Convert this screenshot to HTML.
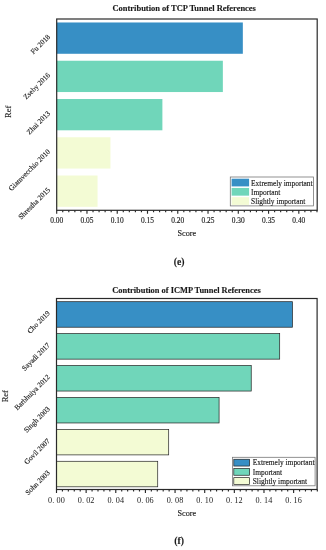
<!DOCTYPE html>
<html lang="en">
<head>
<meta charset="utf-8">
<title>Contribution of Tunnel References</title>
<style>
html,body{margin:0;padding:0;background:#fff;}
body{width:326px;height:550px;overflow:hidden;}
svg{display:block;font-family:"Liberation Serif", serif;}
text{fill:#1a1a1a;stroke:#1a1a1a;stroke-width:0.13px;}
.thin{stroke:none;fill:#222;}
</style>
</head>
<body>
<svg width="326" height="550" viewBox="0 0 326 550">
<rect width="326" height="550" fill="#fff"/>
<g>
<text x="112.5" y="10.6" font-size="8.46" font-weight="bold" fill="#000">Contribution of TCP Tunnel References</text>
<rect x="56.70" y="22.48" width="186.13" height="31.30" fill="#378fc5"/>
<text transform="translate(50.60 37.33) rotate(-45)" text-anchor="end" font-size="7.3">Fu 2018</text>
<rect x="56.70" y="60.74" width="166.15" height="31.30" fill="#70d6ba"/>
<text transform="translate(50.60 75.59) rotate(-45)" text-anchor="end" font-size="7.3">Zseby 2016</text>
<rect x="56.70" y="99.00" width="105.69" height="31.30" fill="#70d6ba"/>
<text transform="translate(50.60 113.85) rotate(-45)" text-anchor="end" font-size="7.3">Zhai 2013</text>
<rect x="56.70" y="137.26" width="53.75" height="31.30" fill="#f3fbd4"/>
<text transform="translate(50.60 152.11) rotate(-45)" text-anchor="end" font-size="7.3">Giamvecchio 2010</text>
<rect x="56.70" y="175.52" width="40.86" height="31.30" fill="#f3fbd4"/>
<text transform="translate(50.60 190.37) rotate(-45)" text-anchor="end" font-size="7.3">Shrestha 2015</text>
<rect x="56.70" y="19.00" width="260.50" height="191.30" fill="none" stroke="#2a2a2a" stroke-width="1.2"/>
<path d="M56.70 210.30v3.5M62.75 210.30v2.0M68.81 210.30v2.0M74.86 210.30v2.0M80.91 210.30v2.0M86.97 210.30v3.5M93.02 210.30v2.0M99.07 210.30v2.0M105.12 210.30v2.0M111.18 210.30v2.0M117.23 210.30v3.5M123.28 210.30v2.0M129.34 210.30v2.0M135.39 210.30v2.0M141.44 210.30v2.0M147.50 210.30v3.5M153.55 210.30v2.0M159.60 210.30v2.0M165.65 210.30v2.0M171.71 210.30v2.0M177.76 210.30v3.5M183.81 210.30v2.0M189.87 210.30v2.0M195.92 210.30v2.0M201.97 210.30v2.0M208.02 210.30v3.5M214.08 210.30v2.0M220.13 210.30v2.0M226.18 210.30v2.0M232.24 210.30v2.0M238.29 210.30v3.5M244.34 210.30v2.0M250.40 210.30v2.0M256.45 210.30v2.0M262.50 210.30v2.0M268.56 210.30v3.5M274.61 210.30v2.0M280.66 210.30v2.0M286.71 210.30v2.0M292.77 210.30v2.0M298.82 210.30v3.5M304.87 210.30v2.0M310.93 210.30v2.0M316.98 210.30v2.0" stroke="#2a2a2a" stroke-width="1.15" fill="none"/>
<text x="56.70" y="222.5" text-anchor="middle" font-size="7.38">0.00</text>
<text x="86.97" y="222.5" text-anchor="middle" font-size="7.38">0.05</text>
<text x="117.23" y="222.5" text-anchor="middle" font-size="7.38">0.10</text>
<text x="147.50" y="222.5" text-anchor="middle" font-size="7.38">0.15</text>
<text x="177.76" y="222.5" text-anchor="middle" font-size="7.38">0.20</text>
<text x="208.02" y="222.5" text-anchor="middle" font-size="7.38">0.25</text>
<text x="238.29" y="222.5" text-anchor="middle" font-size="7.38">0.30</text>
<text x="268.56" y="222.5" text-anchor="middle" font-size="7.38">0.35</text>
<text x="298.82" y="222.5" text-anchor="middle" font-size="7.38">0.40</text>
<text x="186.8" y="236.3" text-anchor="middle" font-size="8.2">Score</text>
<text transform="translate(11.4 111.9) rotate(-90)" text-anchor="middle" font-size="8.5">Ref</text>
<rect x="230.3" y="177.0" width="83.1" height="28.9" fill="#fff" stroke="#777" stroke-width="0.8"/>
<rect x="231.6" y="178.70" width="17.5" height="7.7" fill="#378fc5"/>
<text x="251.1" y="185.55" font-size="7.42">Extremely important</text>
<rect x="231.6" y="187.95" width="17.5" height="7.7" fill="#70d6ba"/>
<text x="251.1" y="194.80" font-size="7.42">Important</text>
<rect x="231.6" y="197.20" width="17.5" height="7.7" fill="#f3fbd4"/>
<text x="251.1" y="204.05" font-size="7.42">Slightly important</text>
<text x="179.1" y="265.1" text-anchor="middle" font-size="9.7" font-weight="bold" fill="#000">(e)</text>
</g>
<g>
<text x="112.3" y="292.5" font-size="8.42" font-weight="bold" fill="#000">Contribution of ICMP Tunnel References</text>
<rect x="56.50" y="301.69" width="235.93" height="25.53" fill="#378fc5" stroke="#222" stroke-width="0.7"/>
<text transform="translate(50.40 313.66) rotate(-45)" text-anchor="end" font-size="7.3">Cho 2019</text>
<rect x="56.50" y="333.61" width="223.19" height="25.53" fill="#70d6ba" stroke="#222" stroke-width="0.7"/>
<text transform="translate(50.40 345.57) rotate(-45)" text-anchor="end" font-size="7.3">Sayadi 2017</text>
<rect x="56.50" y="365.52" width="194.73" height="25.53" fill="#70d6ba" stroke="#222" stroke-width="0.7"/>
<text transform="translate(50.40 377.49) rotate(-45)" text-anchor="end" font-size="7.3">Barbhuiya 2012</text>
<rect x="56.50" y="397.44" width="162.58" height="25.53" fill="#70d6ba" stroke="#222" stroke-width="0.7"/>
<text transform="translate(50.40 409.41) rotate(-45)" text-anchor="end" font-size="7.3">Singh 2003</text>
<rect x="56.50" y="429.36" width="112.19" height="25.53" fill="#f3fbd4" stroke="#222" stroke-width="0.7"/>
<text transform="translate(50.40 441.32) rotate(-45)" text-anchor="end" font-size="7.3">Govil 2007</text>
<rect x="56.50" y="461.28" width="101.22" height="25.53" fill="#f3fbd4" stroke="#222" stroke-width="0.7"/>
<text transform="translate(50.40 473.24) rotate(-45)" text-anchor="end" font-size="7.3">Sohn 2003</text>
<rect x="56.50" y="298.50" width="260.60" height="191.00" fill="none" stroke="#2a2a2a" stroke-width="1.2"/>
<path d="M56.50 489.50v3.5M62.43 489.50v2.0M68.36 489.50v2.0M74.28 489.50v2.0M80.21 489.50v2.0M86.14 489.50v3.5M92.07 489.50v2.0M98.00 489.50v2.0M103.92 489.50v2.0M109.85 489.50v2.0M115.78 489.50v3.5M121.71 489.50v2.0M127.64 489.50v2.0M133.56 489.50v2.0M139.49 489.50v2.0M145.42 489.50v3.5M151.35 489.50v2.0M157.28 489.50v2.0M163.20 489.50v2.0M169.13 489.50v2.0M175.06 489.50v3.5M180.99 489.50v2.0M186.92 489.50v2.0M192.84 489.50v2.0M198.77 489.50v2.0M204.70 489.50v3.5M210.63 489.50v2.0M216.56 489.50v2.0M222.48 489.50v2.0M228.41 489.50v2.0M234.34 489.50v3.5M240.27 489.50v2.0M246.20 489.50v2.0M252.12 489.50v2.0M258.05 489.50v2.0M263.98 489.50v3.5M269.91 489.50v2.0M275.84 489.50v2.0M281.76 489.50v2.0M287.69 489.50v2.0M293.62 489.50v3.5M299.55 489.50v2.0M305.48 489.50v2.0M311.40 489.50v2.0M317.33 489.50v2.0" stroke="#2a2a2a" stroke-width="1.15" fill="none"/>
<text class="thin" x="48.10 52.30 56.50 60.70" y="503.2" font-size="8.2">0.00</text>
<text class="thin" x="77.74 81.94 86.14 90.34" y="503.2" font-size="8.2">0.02</text>
<text class="thin" x="107.38 111.58 115.78 119.98" y="503.2" font-size="8.2">0.04</text>
<text class="thin" x="137.02 141.22 145.42 149.62" y="503.2" font-size="8.2">0.06</text>
<text class="thin" x="166.66 170.86 175.06 179.26" y="503.2" font-size="8.2">0.08</text>
<text class="thin" x="196.30 200.50 204.70 208.90" y="503.2" font-size="8.2">0.10</text>
<text class="thin" x="225.94 230.14 234.34 238.54" y="503.2" font-size="8.2">0.12</text>
<text class="thin" x="255.58 259.78 263.98 268.18" y="503.2" font-size="8.2">0.14</text>
<text class="thin" x="285.22 289.42 293.62 297.82" y="503.2" font-size="8.2">0.16</text>
<text x="186.8" y="515.8" text-anchor="middle" font-size="8.2">Score</text>
<text transform="translate(7.7 396.2) rotate(-90)" text-anchor="middle" font-size="8.5">Ref</text>
<rect x="232.4" y="457.3" width="82.7" height="28.5" fill="#fff" stroke="#777" stroke-width="0.8"/>
<rect x="233.8" y="459.25" width="15.8" height="6.8" fill="#378fc5" stroke="#222" stroke-width="0.7"/>
<text x="252.7" y="465.30" font-size="7.45">Extremely important</text>
<rect x="233.8" y="468.45" width="15.8" height="6.8" fill="#70d6ba" stroke="#222" stroke-width="0.7"/>
<text x="252.7" y="474.50" font-size="7.45">Important</text>
<rect x="233.8" y="477.65" width="15.8" height="6.8" fill="#f3fbd4" stroke="#222" stroke-width="0.7"/>
<text x="252.7" y="483.70" font-size="7.45">Slightly important</text>
<text x="179.2" y="544.3" text-anchor="middle" font-size="9.7" font-weight="bold" fill="#000">(f)</text>
</g>
</svg>
</body>
</html>
